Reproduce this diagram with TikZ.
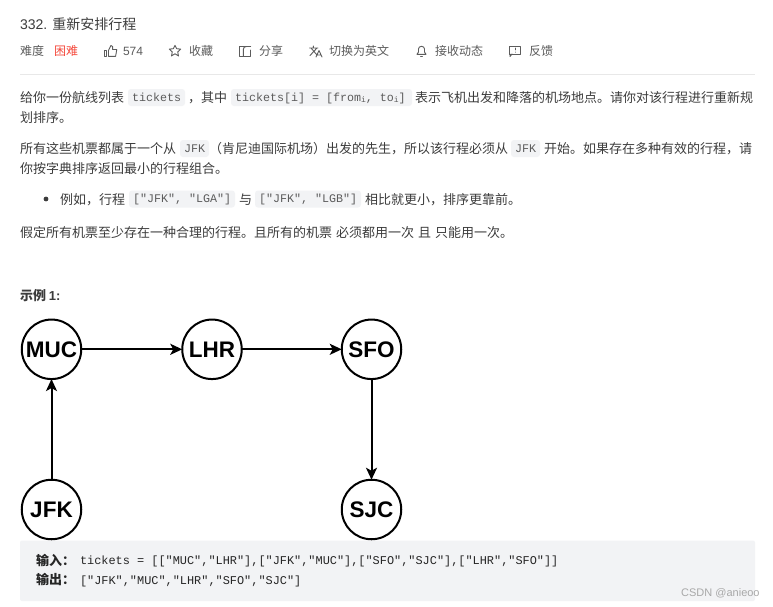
\documentclass[tikz,border=0pt]{standalone}
\usepackage{fontspec}
\usetikzlibrary{arrows.meta}
\setmainfont{Liberation Sans}
\setmonofont{Liberation Mono}
\newfontfamily\cjk{Noto Sans CJK SC}
\definecolor{txt}{HTML}{3C3C3C}
\definecolor{subc}{HTML}{5C5C5C}
\definecolor{chipbg}{HTML}{F2F3F5}
\definecolor{rulec}{HTML}{E8E8E8}
\definecolor{hard}{HTML}{F5483B}
\definecolor{wmc}{HTML}{A8A8A8}
\newcommand{\sz}[1]{\fontsize{#1}{#1}\selectfont}
\newcommand{\subi}{\raisebox{-1.5pt}{\sz{8}i}}
% \Tx{name}{x}{baseline y}{text}
\newcommand{\Tx}[4]{\node[para] (#1) at (#2,#3) {\cjk #4};}
\newcommand{\Sb}[4]{\node[subt] (#1) at (#2,#3) {\cjk #4};}
% \Chip{name}{x0}{x1}{center y}{text}
\newcommand{\Chip}[5]{\fill[chipbg,rounded corners=3pt] (#2,#4-8.5) rectangle (#3,#4+8.5);
  \node[codetxt] (#1) at (#2+4,#4+3.5) {#5};}
\tikzset{
  x=1pt,y=-1pt,
  para/.style={anchor=base west,inner sep=0pt,outer sep=0pt,text=txt,font=\sz{13}},
  subt/.style={anchor=base west,inner sep=0pt,outer sep=0pt,text=subc,font=\sz{12}},
  codetxt/.style={anchor=base west,inner sep=0pt,outer sep=0pt,text=subc,font=\ttfamily\sz{11.67}},
  outtxt/.style={anchor=base west,inner sep=0pt,outer sep=0pt,text=black!85,font=\ttfamily\sz{11.9}},
  airport/.style={circle,draw=black,line width=2pt,fill=white,minimum size=59.5pt,inner sep=0pt,outer sep=0pt,font=\bfseries\sz{22.5},text=black},
  flight/.style={draw=black,line width=2pt,-{Stealth[length=12pt,width=11pt,inset=3pt]}},
  icon/.style={draw=subc,line width=.9pt,line join=round,line cap=round,fill=none},
}
\begin{document}
\begin{tikzpicture}
\useasboundingbox (0,0) rectangle (773,606);
\fill[white] (0,0) rectangle (773,606);
% header
\node[para,font=\sz{14}] (title) at (20,29) {332. {\cjk 重新安排行程}};
\Sb{diff}{20}{55.5}{难度}
\node[subt,text=hard] (hardlabel) at (54,55.5) {\cjk 困难};
\draw[icon] (104.3,50.3) rectangle (106.8,56.3);
\draw[icon] (108.5,50.3) -- (111,45.5) .. controls (112.8,45.5) and (113.2,47) .. (112.6,49.5) -- (116.8,49.5) -- (115.6,56.3) -- (108.5,56.3) -- cycle;
\node[subt] (likes) at (123,55.5) {574};
\draw[icon] (175,45.3) -- (176.6,48.7) -- (180.7,49.1) -- (177.7,51.9) -- (178.5,55.9) -- (175,53.8) -- (171.5,55.9) -- (172.3,51.9) -- (169.3,49.1) -- (173.4,48.7) -- cycle;
\Sb{fav}{189}{55.5}{收藏}
\draw[icon] (246,46.5) -- (239.7,46.5) -- (239.7,56) -- (250.5,56) -- (250.5,50);
\draw[icon] (243.3,56) -- (243.3,49.5) .. controls (243.3,47.5) and (244.5,46.5) .. (246.5,46.5) -- (250.7,46.5);
\Sb{share}{259}{55.5}{分享}
\draw[icon] (309.5,48) -- (318,48) (313.3,46) -- (313.3,48) (311,48) -- (317,55) (317,48) -- (310,55.5);
\draw[icon] (316,57) -- (319,50.5) -- (322,57) (317,55) -- (321,55);
\Sb{trans}{329}{55.5}{切换为英文}
\draw[icon] (417,54.3) -- (418.5,52) -- (418.5,49) .. controls (418.5,47.3) and (420,46.3) .. (421.5,46.3) .. controls (423,46.3) and (424.5,47.3) .. (424.5,49) -- (424.5,52) -- (426,54.3) -- cycle;
\draw[icon] (420.5,56.5) -- (422.5,56.5);
\Sb{notify}{435}{55.5}{接收动态}
\draw[icon] (509.3,46) rectangle (520.5,54);
\draw[icon] (512,54) -- (510,56.5) -- (510,54);
\draw[icon] (515,48) -- (515,50) (515,52) -- (515,52.1);
\Sb{feedback}{529}{55.5}{反馈}
\draw[rulec,line width=1pt] (20,74.5) -- (755,74.5);
% paragraph 1
\Tx{pa}{20}{102}{给你一份航线列表}
\Chip{ca}{128}{185}{97.5}{tickets}
\Tx{pb}{188}{102}{，其中}
\Chip{cb}{231}{412}{97.5}{tickets[i] = [from\subi, to\subi]}
\Tx{pc}{415}{102}{表示飞机出发和降落的机场地点。请你对该行程进行重新规}
\Tx{pd}{20}{122}{划排序。}
% paragraph 2
\Tx{qa}{20}{153}{所有这些机票都属于一个从}
\Chip{cc}{180}{209}{148.5}{JFK}
\Tx{qb}{209}{153}{（肯尼迪国际机场）出发的先生，所以该行程必须从}
\Chip{cd}{511}{540}{148.5}{JFK}
\Tx{qc}{544}{153}{开始。如果存在多种有效的行程，请}
\Tx{qd}{20}{173}{你按字典排序返回最小的行程组合。}
% bullet
\fill[txt] (46,199) circle (2.4pt);
\Tx{ra}{60}{204}{例如，行程}
\Chip{ce}{129}{235}{199}{["JFK", "LGA"]}
\Tx{rb}{239}{204}{与}
\Chip{cf}{255}{361}{199}{["JFK", "LGB"]}
\Tx{rc}{365}{204}{相比就更小，排序更靠前。}
% paragraph 3
\Tx{sa}{20}{237}{假定所有机票至少存在一种合理的行程。且所有的机票}
\Tx{sb}{336}{237}{必须都用一次}
\Tx{sc}{418}{237}{且}
\Tx{sd}{435}{237}{只能用一次。}
% example
\node[para] (example) at (20,300) {\cjk\bfseries 示例 {\rmfamily\bfseries 1:}};
% output block
\fill[chipbg,rounded corners=2pt] (20,540.5) rectangle (755,601);
% graph
\node[airport] (MUC) at (51.5,349.3) {MUC};
\node[airport] (LHR) at (212,349.3) {LHR};
\node[airport] (SFO) at (371.5,349.3) {SFO};
\node[airport] (JFK) at (51.5,509.5) {JFK};
\node[airport] (SJC) at (371.5,509.5) {SJC};
\draw[flight] (MUC) -- (LHR);
\draw[flight] (LHR) -- (SFO);
\draw[flight] (SFO) -- (SJC);
\draw[flight] (JFK) -- (MUC);
% output text
\node[para,text=black!85] (inlabel) at (36,565) {\cjk\bfseries 输入：};
\node[outtxt] (intext) at (80,564.5) {tickets = [["MUC","LHR"],["JFK","MUC"],["SFO","SJC"],["LHR","SFO"]]};
\node[para,text=black!85] (outlabel) at (36,584.5) {\cjk\bfseries 输出：};
\node[outtxt] (outtext) at (80,584) {["JFK","MUC","LHR","SFO","SJC"]};
\node[anchor=base west,inner sep=0pt,text=wmc,font=\sz{11}] (wm) at (681,596) {CSDN @anieoo};
\end{tikzpicture}
\end{document}
